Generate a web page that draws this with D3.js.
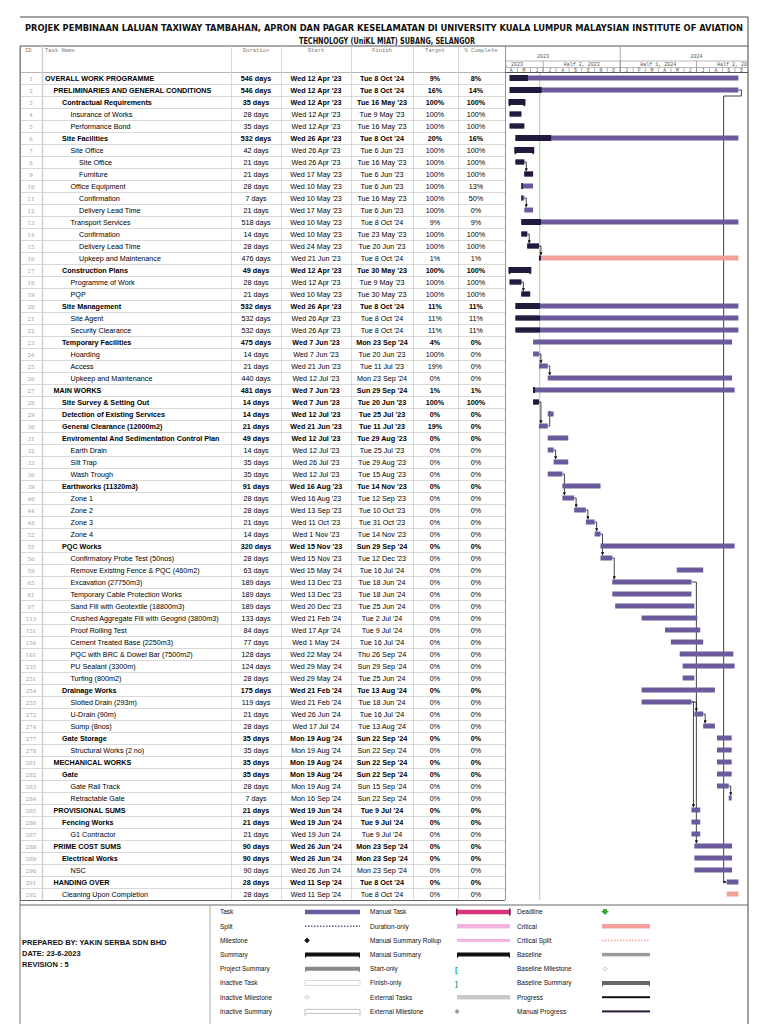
<!DOCTYPE html>
<html><head><meta charset="utf-8">
<script src="https://cdn.jsdelivr.net/npm/d3@7"></script>
<style>body{margin:0;background:#fff}svg{display:block}</style></head>
<body><svg id="c" width="768" height="1024"></svg>
<script>
const titleLines=["PROJEK PEMBINAAN LALUAN TAXIWAY TAMBAHAN, APRON DAN PAGAR KESELAMATAN DI UNIVERSITY KUALA LUMPUR MALAYSIAN INSTITUTE OF AVIATION","TECHNOLOGY (UniKL MIAT) SUBANG, SELANGOR"];
const columnHeaders=["ID","Task Name","Duration","Start","Finish","Target","% Complete"];
const ids=[1,2,3,4,5,6,7,8,9,10,11,12,13,14,15,16,17,18,19,20,21,22,23,24,25,26,27,28,29,30,31,32,33,36,39,40,44,48,52,55,56,59,65,81,97,113,151,156,161,235,251,254,255,272,274,277,278,281,282,283,284,285,286,287,288,289,290,291,292];
const names=["OVERALL WORK PROGRAMME","PRELIMINARIES AND GENERAL CONDITIONS","Contractual Requirements","Insurance of Works","Performance Bond","Site Facilities","Site Office","Site Office","Furniture","Office Equipment","Confirmation","Delivery Lead Time","Transport Services","Confirmation","Delivery Lead Time","Upkeep and Maintenance","Construction Plans","Programme of Work","PQP","Site Management","Site Agent","Security Clearance","Temporary Facilities","Hoarding","Access","Upkeep and Maintenance","MAIN WORKS","Site Survey & Setting Out","Detection of Existing Services","General Clearance (12000m2)","Enviromental And Sedimentation Control Plan","Earth Drain","Silt Trap","Wash Trough","Earthworks (11320m3)","Zone 1","Zone 2","Zone 3","Zone 4","PQC Works","Confirmatory Probe Test (50nos)","Remove Existing Fence & PQC (460m2)","Excavation (27750m3)","Temporary Cable Protection Works","Sand Fill with Geotextile (18800m3)","Crushed Aggregate Fill with Geogrid (3800m3)","Proof Rolling Test","Cement Treated Base (2250m3)","PQC with BRC & Dowel Bar (7500m2)","PU Sealant (3300m)","Turfing (800m2)","Drainage Works","Slotted Drain (293m)","U-Drain (90m)","Sump (8nos)","Gate Storage","Structural Works (2 no)","MECHANICAL WORKS","Gate","Gate Rail Track","Retractable Gate","PROVISIONAL SUMS","Fencing Works","G1 Contractor","PRIME COST SUMS","Electrical Works","NSC","HANDING OVER","Cleaning Upon Completion"];
const levels=[0,1,2,3,3,2,3,4,4,3,4,4,3,4,4,4,2,3,3,2,3,3,2,3,3,3,1,2,2,2,2,3,3,3,2,3,3,3,3,2,3,3,3,3,3,3,3,3,3,3,3,2,3,3,3,2,3,1,2,3,3,1,2,3,1,2,3,1,2];
const durations=["546 days","546 days","35 days","28 days","35 days","532 days","42 days","21 days","21 days","28 days","7 days","21 days","518 days","14 days","28 days","476 days","49 days","28 days","21 days","532 days","532 days","532 days","475 days","14 days","21 days","440 days","481 days","14 days","14 days","21 days","49 days","14 days","35 days","35 days","91 days","28 days","28 days","21 days","14 days","320 days","28 days","63 days","189 days","189 days","189 days","133 days","84 days","77 days","128 days","124 days","28 days","175 days","119 days","21 days","28 days","35 days","35 days","35 days","35 days","28 days","7 days","21 days","21 days","21 days","90 days","90 days","90 days","28 days","28 days"];
const starts=["Wed 12 Apr '23","Wed 12 Apr '23","Wed 12 Apr '23","Wed 12 Apr '23","Wed 12 Apr '23","Wed 26 Apr '23","Wed 26 Apr '23","Wed 26 Apr '23","Wed 17 May '23","Wed 10 May '23","Wed 10 May '23","Wed 17 May '23","Wed 10 May '23","Wed 10 May '23","Wed 24 May '23","Wed 21 Jun '23","Wed 12 Apr '23","Wed 12 Apr '23","Wed 10 May '23","Wed 26 Apr '23","Wed 26 Apr '23","Wed 26 Apr '23","Wed 7 Jun '23","Wed 7 Jun '23","Wed 21 Jun '23","Wed 12 Jul '23","Wed 7 Jun '23","Wed 7 Jun '23","Wed 12 Jul '23","Wed 21 Jun '23","Wed 12 Jul '23","Wed 12 Jul '23","Wed 26 Jul '23","Wed 12 Jul '23","Wed 16 Aug '23","Wed 16 Aug '23","Wed 13 Sep '23","Wed 11 Oct '23","Wed 1 Nov '23","Wed 15 Nov '23","Wed 15 Nov '23","Wed 15 May '24","Wed 13 Dec '23","Wed 13 Dec '23","Wed 20 Dec '23","Wed 21 Feb '24","Wed 17 Apr '24","Wed 1 May '24","Wed 22 May '24","Wed 29 May '24","Wed 29 May '24","Wed 21 Feb '24","Wed 21 Feb '24","Wed 26 Jun '24","Wed 17 Jul '24","Mon 19 Aug '24","Mon 19 Aug '24","Mon 19 Aug '24","Mon 19 Aug '24","Mon 19 Aug '24","Mon 16 Sep '24","Wed 19 Jun '24","Wed 19 Jun '24","Wed 19 Jun '24","Wed 26 Jun '24","Wed 26 Jun '24","Wed 26 Jun '24","Wed 11 Sep '24","Wed 11 Sep '24"];
const finishes=["Tue 8 Oct '24","Tue 8 Oct '24","Tue 16 May '23","Tue 9 May '23","Tue 16 May '23","Tue 8 Oct '24","Tue 6 Jun '23","Tue 16 May '23","Tue 6 Jun '23","Tue 6 Jun '23","Tue 16 May '23","Tue 6 Jun '23","Tue 8 Oct '24","Tue 23 May '23","Tue 20 Jun '23","Tue 8 Oct '24","Tue 30 May '23","Tue 9 May '23","Tue 30 May '23","Tue 8 Oct '24","Tue 8 Oct '24","Tue 8 Oct '24","Mon 23 Sep '24","Tue 20 Jun '23","Tue 11 Jul '23","Mon 23 Sep '24","Sun 29 Sep '24","Tue 20 Jun '23","Tue 25 Jul '23","Tue 11 Jul '23","Tue 29 Aug '23","Tue 25 Jul '23","Tue 29 Aug '23","Tue 15 Aug '23","Tue 14 Nov '23","Tue 12 Sep '23","Tue 10 Oct '23","Tue 31 Oct '23","Tue 14 Nov '23","Sun 29 Sep '24","Tue 12 Dec '23","Tue 16 Jul '24","Tue 18 Jun '24","Tue 18 Jun '24","Tue 25 Jun '24","Tue 2 Jul '24","Tue 9 Jul '24","Tue 16 Jul '24","Thu 26 Sep '24","Sun 29 Sep '24","Tue 25 Jun '24","Tue 13 Aug '24","Tue 18 Jun '24","Tue 16 Jul '24","Tue 13 Aug '24","Sun 22 Sep '24","Sun 22 Sep '24","Sun 22 Sep '24","Sun 22 Sep '24","Sun 15 Sep '24","Sun 22 Sep '24","Tue 9 Jul '24","Tue 9 Jul '24","Tue 9 Jul '24","Mon 23 Sep '24","Mon 23 Sep '24","Mon 23 Sep '24","Tue 8 Oct '24","Tue 8 Oct '24"];
const targets=["9%","16%","100%","100%","100%","20%","100%","100%","100%","100%","100%","100%","9%","100%","100%","1%","100%","100%","100%","11%","11%","11%","4%","100%","19%","0%","1%","100%","0%","19%","0%","0%","0%","0%","0%","0%","0%","0%","0%","0%","0%","0%","0%","0%","0%","0%","0%","0%","0%","0%","0%","0%","0%","0%","0%","0%","0%","0%","0%","0%","0%","0%","0%","0%","0%","0%","0%","0%","0%"];
const completes=["8%","14%","100%","100%","100%","16%","100%","100%","100%","13%","50%","0%","9%","100%","100%","1%","100%","100%","100%","11%","11%","11%","0%","0%","0%","0%","1%","100%","0%","0%","0%","0%","0%","0%","0%","0%","0%","0%","0%","0%","0%","0%","0%","0%","0%","0%","0%","0%","0%","0%","0%","0%","0%","0%","0%","0%","0%","0%","0%","0%","0%","0%","0%","0%","0%","0%","0%","0%","0%"];
const boldRows=[1,2,3,6,17,20,23,27,28,29,30,31,39,55,254,277,281,282,285,286,288,289,291];
const summaryRows=[1,2,3,6,7,10,13,17,20,23,27,31,39,55,254,277,281,282,285,286,288,289,291];
const criticalRows=[16,292];
const links=[[8,9],[11,12],[14,15],[15,16],[18,19],[24,25],[25,26],[28,30],[30,29],[32,33],[36,40],[40,44],[44,48],[48,52],[52,56],[56,65],[255,272],[272,274],[283,284],[65,288],[255,285],[2,291]];
const statusDate="Fri 23 Jun '23";
const timeStart="Sat 1 Apr '23", timeEnd="Fri 1 Nov '24";
const yearLabels=[["2023","Sat 1 Jul '23"],["2024","Mon 1 Jul '24"]];
const yearBounds=["Mon 1 Jan '24"];
const halfLabels=[["Half 1, 2023","Sat 1 Apr '23"],["Half 2, 2023","Sun 1 Oct '23"],["Half 1, 2024","Mon 1 Apr '24"],["Half 2, 2024","Tue 1 Oct '24"]];
const halfBounds=["Sat 1 Jul '23","Mon 1 Jan '24","Mon 1 Jul '24"];
const monthLabels=["A","M","J","J","A","S","O","N","D","J","F","M","A","M","J","J","A","S","O"];
const preparedText=["PREPARED BY: YAKIN SERBA SDN BHD","DATE: 23-6-2023","REVISION : 5"];
const legendCol1=["Task","Split","Milestone","Summary","Project Summary","Inactive Task","Inactive Milestone","Inactive Summary"];
const legendCol2=["Manual Task","Duration-only","Manual Summary Rollup","Manual Summary","Start-only","Finish-only","External Tasks","External Milestone"];
const legendCol3=["Deadline","Critical","Critical Split","Baseline","Baseline Milestone","Baseline Summary","Progress","Manual Progress"];

const MON={Jan:0,Feb:1,Mar:2,Apr:3,May:4,Jun:5,Jul:6,Aug:7,Sep:8,Oct:9,Nov:10,Dec:11};
function pd(s){const p=s.replace("'","").split(" ");return new Date(2000+(+p[3]),MON[p[2]],+p[1]);}

const svg=d3.select("#c");
const FONT="'Liberation Sans', Arial, sans-serif";
const MONO="'Liberation Mono','DejaVu Sans Mono',monospace";
const PURPLE="#6c5a9e", DARK="#221a3c", CRIT="#f3a09a";
const L=20,R=748,GX=505;
const cols=[20,42,231,281,351,413,458,505];
const rowTop=72,rowH=12;
const n=ids.length;
const cy=i=>rowTop+rowH*i+6;

const x=d3.scaleTime().domain([pd(timeStart),pd(timeEnd)]).range([GX,R]);

// title
const TF="'DejaVu Sans Condensed','DejaVu Sans',sans-serif";
svg.append("line").attr("x1",L).attr("x2",R).attr("y1",17).attr("y2",17).attr("stroke","#444");
svg.append("text").attr("x",25).attr("y",31).attr("textLength",718).attr("lengthAdjust","spacingAndGlyphs")
 .attr("font-family",TF).attr("font-weight","bold").attr("font-stretch","condensed")
 .attr("font-size",8.6).attr("fill","#111").text(titleLines[0]);
svg.append("text").attr("x",387).attr("y",44).attr("text-anchor","middle").attr("textLength",176).attr("lengthAdjust","spacingAndGlyphs")
 .attr("font-family",TF).attr("font-weight","bold").attr("font-stretch","condensed")
 .attr("font-size",8.6).attr("fill","#111").text(titleLines[1]);

// frame
svg.append("line").attr("x1",R).attr("x2",R).attr("y1",17).attr("y2",1024).attr("stroke","#444");
svg.append("line").attr("x1",L).attr("x2",L).attr("y1",46).attr("y2",1024).attr("stroke","#777");

// header
svg.append("line").attr("x1",L).attr("x2",R).attr("y1",46).attr("y2",46).attr("stroke","#555");
svg.append("line").attr("x1",L).attr("x2",R).attr("y1",72.5).attr("y2",72.5).attr("stroke","#555");
const hx=[25,45,256,316,382,435,481];
columnHeaders.forEach((h,k)=>{
  svg.append("text").attr("x",hx[k]).attr("y",52).attr("text-anchor",k<2?"start":"middle")
   .attr("font-family",MONO).attr("font-size",5.5).attr("fill","#777").text(h);
});

// row grid
const grid=svg.append("g");
for(let i=0;i<=n;i++){
  grid.append("line").attr("x1",L).attr("x2",GX).attr("y1",rowTop+rowH*i+0.5).attr("y2",rowTop+rowH*i+0.5)
   .attr("stroke",i==n?"#666":"#cfcfcf").attr("stroke-width",i==n?1:0.8);
}
cols.forEach((c,k)=>{
  grid.append("line").attr("x1",c+0.5).attr("x2",c+0.5).attr("y1",46).attr("y2",rowTop+rowH*n)
   .attr("stroke",k==0||k==7?"#777":"#cfcfcf").attr("stroke-width",k==1?1.5:0.8);
});

// table text
const T=svg.append("g");
ids.forEach((id,i)=>{
  const y=cy(i)+2.5, b=boldRows.includes(id);
  T.append("text").attr("x",31).attr("y",y).attr("text-anchor","middle").attr("font-family","'DejaVu Serif',serif")
   .attr("font-size",5.5).attr("fill","#999").text(id);
  T.append("text").attr("x",45+levels[i]*8.5).attr("y",y).attr("font-family",FONT).attr("font-size",7.2)
   .attr("font-weight",b?"bold":"normal").attr("fill","#000").text(names[i]);
  [[durations,256],[starts,316],[finishes,382],[targets,435],[completes,476]].forEach(([arr,cx])=>{
    T.append("text").attr("x",cx).attr("y",y).attr("text-anchor","middle").attr("font-family",FONT)
     .attr("font-size",7.2).attr("font-weight",b?"bold":"normal").attr("fill","#000").text(arr[i]);
  });
});

// timescale header
const H=svg.append("g");
H.append("line").attr("x1",GX).attr("x2",R).attr("y1",61).attr("y2",61).attr("stroke","#999").attr("stroke-width",0.7);
H.append("line").attr("x1",GX).attr("x2",R).attr("y1",67.5).attr("y2",67.5).attr("stroke","#999").attr("stroke-width",0.7);
const clip=svg.append("defs").append("clipPath").attr("id","gc");
clip.append("rect").attr("x",GX+1).attr("y",40).attr("width",R-GX-2).attr("height",40);
const HL=H.append("g").attr("clip-path","url(#gc)");
yearLabels.forEach(([t,d])=>HL.append("text").attr("x",x(pd(d))).attr("y",58).attr("text-anchor","middle")
  .attr("font-family",MONO).attr("font-size",5).attr("fill","#555").text(t));
yearBounds.forEach(d=>H.append("line").attr("x1",x(pd(d))).attr("x2",x(pd(d))).attr("y1",46).attr("y2",72.5).attr("stroke","#888").attr("stroke-width",0.7));
halfLabels.forEach(([t,d])=>HL.append("text").attr("x",x(pd(d))).attr("y",65.5).attr("text-anchor","middle")
  .attr("font-family",MONO).attr("font-size",5).attr("fill","#555").text(t));
halfBounds.forEach(d=>H.append("line").attr("x1",x(pd(d))).attr("x2",x(pd(d))).attr("y1",61).attr("y2",72.5).attr("stroke","#888").attr("stroke-width",0.7));
const months=d3.timeMonth.range(pd(timeStart),pd(timeEnd));
months.forEach((m,k)=>{
  const nx=d3.timeMonth.offset(m,1);
  HL.append("text").attr("x",(x(m)+x(nx))/2).attr("y",71.8).attr("text-anchor","middle")
   .attr("font-family",MONO).attr("font-size",4.8).attr("fill","#555").text(monthLabels[k]);
  if(k>0) H.append("line").attr("x1",x(m)).attr("x2",x(m)).attr("y1",67.5).attr("y2",72.5).attr("stroke","#888").attr("stroke-width",0.6);
});

// status line
const sx=x(pd(statusDate));
svg.append("line").attr("x1",sx).attr("x2",sx).attr("y1",73).attr("y2",rowTop+rowH*n).attr("stroke","#9ad49a").attr("stroke-width",1);

// links
const defs=svg.select("defs");
defs.append("marker").attr("id","ar").attr("viewBox","0 0 6 6").attr("refX",5).attr("refY",3)
 .attr("markerWidth",4).attr("markerHeight",4).attr("orient","auto")
 .append("path").attr("d","M0,0L6,3L0,6Z").attr("fill","#111");
const idx=id=>ids.indexOf(id);
const LG=svg.append("g");
links.forEach(([a,b])=>{
  const ia=idx(a), ib=idx(b);
  const xe=x(d3.timeDay.offset(pd(finishes[ia]),1)), xs0=x(pd(starts[ib]));
  const ya=cy(ia), yb=cy(ib);
  let d;
  if(xs0>=xe-0.5){
    const xx=Math.max(xs0+2,xe+2);
    d=`M${xe},${ya}H${xx}V${yb-3}`;
  } else {
    d=`M${xe},${ya}H${xe+3}V${ya+6}H${xs0-3}V${yb}H${xs0-0.5}`;
  }
  LG.append("path").attr("d",d).attr("fill","none").attr("stroke","#111").attr("stroke-width",0.8).attr("marker-end","url(#ar)");
});

// bars
const B=svg.append("g");
ids.forEach((id,i)=>{
  const x0=x(pd(starts[i])), x1=x(d3.timeDay.offset(pd(finishes[i]),1));
  const y=cy(i);
  const crit=criticalRows.includes(id), summ=summaryRows.includes(id);
  B.append("rect").attr("x",x0).attr("y",y-2.5).attr("width",Math.max(1,x1-x0)).attr("height",5).attr("fill",crit?CRIT:PURPLE);
  const pc=parseFloat(completes[i])/100;
  if(pc>0){
    B.append("rect").attr("x",x0).attr("y",summ?y-3:y-2.5).attr("width",(x1-x0)*pc).attr("height",summ?6:5).attr("fill",DARK);
  }
  if(summ && pc>=1){
    [x0,x1].forEach(xx=>B.append("path").attr("d",`M${xx-1.2},${y-3}h2.4v6l-1.2,1.5l-1.2,-1.5z`).attr("fill",DARK));
  }
});

// legend area
const LGD=svg.append("g");
LGD.append("line").attr("x1",L).attr("x2",R).attr("y1",905).attr("y2",905).attr("stroke","#666");
LGD.append("line").attr("x1",210).attr("x2",210).attr("y1",905).attr("y2",1024).attr("stroke","#888").attr("stroke-width",0.7);
preparedText.forEach((t,k)=>LGD.append("text").attr("x",22).attr("y",945+k*11).attr("font-family",FONT)
  .attr("font-weight","bold").attr("font-size",7.5).attr("fill","#111").text(t));
const ly=k=>912+k*14.2;
function lab(xx,k,t){LGD.append("text").attr("x",xx).attr("y",ly(k)+2.3).attr("font-family",FONT).attr("font-size",6.5).attr("fill","#111").text(t);}
function bar(x0,x1,k,fill,h,stroke){LGD.append("rect").attr("x",x0).attr("y",ly(k)-h/2).attr("width",x1-x0).attr("height",h).attr("fill",fill).attr("stroke",stroke||"none").attr("stroke-width",0.6);}
function dotted(x0,x1,k,col){LGD.append("line").attr("x1",x0).attr("x2",x1).attr("y1",ly(k)).attr("y2",ly(k)).attr("stroke",col).attr("stroke-width",1.5).attr("stroke-dasharray","1.5,1.5");}
function diamond(xx,k,s,fill,stroke){LGD.append("path").attr("d",`M${xx},${ly(k)-s}L${xx+s},${ly(k)}L${xx},${ly(k)+s}L${xx-s},${ly(k)}Z`).attr("fill",fill).attr("stroke",stroke||"none").attr("stroke-width",0.6);}
function summary(x0,x1,k,col,hollow){
  const y=ly(k);
  LGD.append("path").attr("d",`M${x0},${y-2}H${x1}V${y+4}L${x1-1.5},${y+2}H${x0+1.5}L${x0},${y+4}Z`)
   .attr("fill",hollow?"#fff":col).attr("stroke",hollow?"#999":"none").attr("stroke-width",0.6);
}
legendCol1.forEach((t,k)=>lab(220,k,t));
legendCol2.forEach((t,k)=>lab(370,k,t));
legendCol3.forEach((t,k)=>lab(517,k,t));
bar(305,360,0,PURPLE,4.5);
dotted(305,360,1,PURPLE);
diamond(307,2,2.8,"#111");
summary(305,360,3,"#111");
summary(305,360,4,"#888");
bar(305,360,5,"#fff",4.5,"#bbb");
diamond(307,6,2,"#fff","#999");
summary(305,360,7,"#111",true);
bar(457,510,0,"#d6377f",4.5);
LGD.append("rect").attr("x",456).attr("y",ly(0)-3.5).attr("width",1.6).attr("height",7).attr("fill","#7a1040");
LGD.append("rect").attr("x",509).attr("y",ly(0)-3.5).attr("width",1.6).attr("height",7).attr("fill","#7a1040");
bar(457,510,1,"#f2b3de",4.5);
bar(457,510,2,"#f2b3de",3);
summary(457,510,3,"#111");
LGD.append("text").attr("x",455).attr("y",ly(4)+3).attr("font-family",FONT).attr("font-weight","bold").attr("font-size",8).attr("fill","#1aa2a6").text("[");
LGD.append("text").attr("x",455).attr("y",ly(5)+3).attr("font-family",FONT).attr("font-weight","bold").attr("font-size",8).attr("fill","#1aa2a6").text("]");
bar(457,510,6,"#c9c9c9",4.5);
diamond(457,7,2.5,"#999");
LGD.append("path").attr("d",`M${603},${ly(0)-3}h4v2h2l-4,4l-4,-4h2z`).attr("fill","#3aa53a");
bar(602,650,1,CRIT,4.5);
dotted(602,650,2,CRIT);
bar(602,650,3,"#9a9a9a",3.5);
diamond(605,4,2,"#fff","#999");
summary(602,650,5,"#666");
bar(602,650,6,"#111",2);
bar(602,650,7,"#2a1a3a",2);
</script></body></html>
